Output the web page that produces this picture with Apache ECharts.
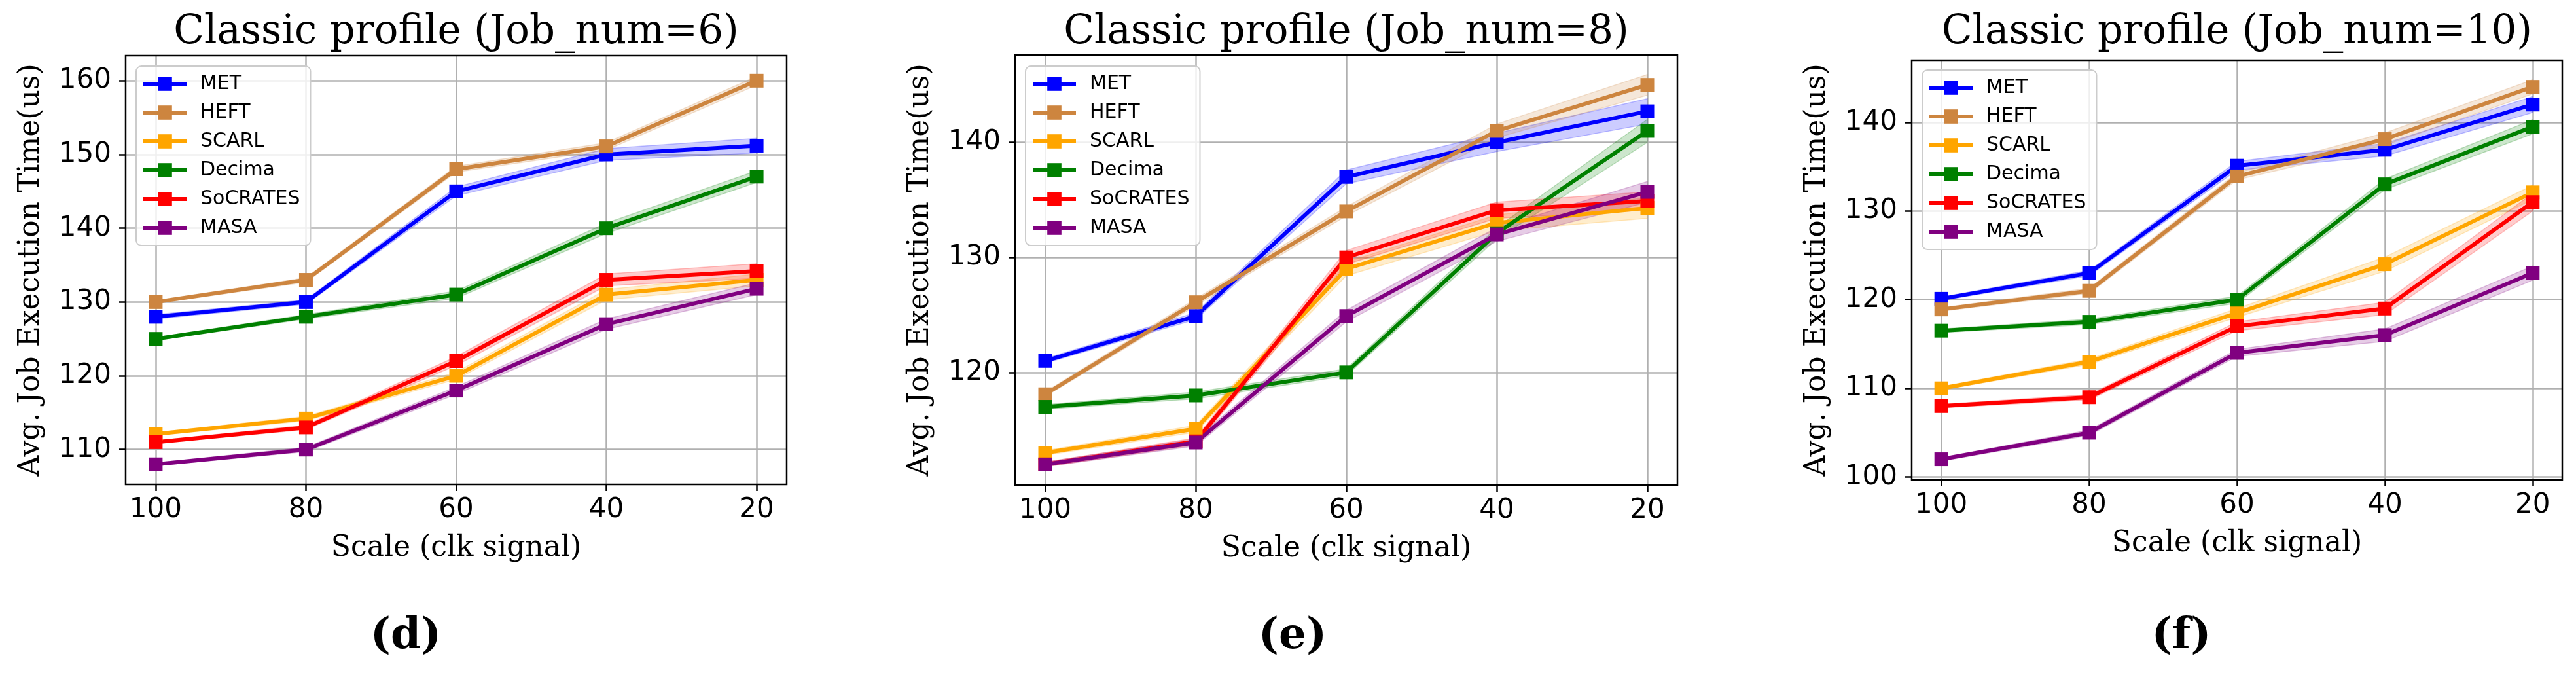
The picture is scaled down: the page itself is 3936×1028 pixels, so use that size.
<!DOCTYPE html>
<html><head><meta charset="utf-8">
<script src="https://cdn.jsdelivr.net/npm/echarts@6/dist/echarts.min.js"></script>
<style>html,body{margin:0;padding:0;background:#fff}#c{width:3936px;height:1028px}</style>
</head><body><div id="c"></div>
<script>
// ---------- data ----------
const categories = ['100', '80', '60', '40', '20'];
const seriesNames = ['MET', 'HEFT', 'SCARL', 'Decima', 'SoCRATES', 'MASA'];
const seriesColors = ['#0000ff', '#cd853f', '#ffa500', '#008000', '#ff0000', '#800080'];
const panelTitles = ['Classic profile (Job_num=6)', 'Classic profile (Job_num=8)', 'Classic profile (Job_num=10)'];
const panelCaptions = ['(d)', '(e)', '(f)'];
const xAxisTitle = 'Scale (clk signal)';
const yAxisTitle = 'Avg. Job Execution Time(us)';

// rows: MET, HEFT, SCARL, Decima, SoCRATES, MASA
const job6Values = [
  [128, 130, 145, 150, 151.2],
  [130, 133, 148, 151.1, 160],
  [112.1, 114.2, 120, 131, 133],
  [125, 128, 131, 140, 147],
  [111, 113, 122, 133, 134.2],
  [108, 110, 118, 127, 131.8]
];
const job6Spread = [
  [0.3, 0.3, 0.6, 0.8, 1.0],
  [0.2, 0.3, 0.4, 0.5, 0.6],
  [0.2, 0.3, 0.5, 0.7, 0.8],
  [0.2, 0.3, 0.5, 0.7, 0.8],
  [0.2, 0.3, 0.6, 0.8, 1.0],
  [0.2, 0.3, 0.5, 0.7, 0.8]
];
const job8Values = [
  [121, 124.9, 137, 140, 142.7],
  [118.1, 126.1, 134, 141, 145],
  [113, 115.1, 129, 133, 134.3],
  [117, 118, 120, 132.1, 141],
  [112, 114, 130, 134.1, 134.9],
  [112, 113.9, 124.9, 132, 135.7]
];
const job8Spread = [
  [0.2, 0.3, 0.6, 0.8, 1.1],
  [0.2, 0.3, 0.4, 0.6, 0.9],
  [0.2, 0.3, 0.6, 0.7, 0.9],
  [0.2, 0.3, 0.3, 0.5, 1.0],
  [0.2, 0.3, 0.6, 0.7, 0.8],
  [0.2, 0.3, 0.5, 0.6, 0.9]
];
const job10Values = [
  [120.1, 123, 135.1, 136.9, 142],
  [118.9, 121, 133.9, 138.1, 144],
  [110, 113, 118.5, 124, 132.1],
  [116.5, 117.5, 120, 133, 139.5],
  [108, 109, 117, 119, 131],
  [102, 105, 114, 116, 123]
];
const job10Spread = [
  [0.2, 0.3, 0.5, 0.7, 0.9],
  [0.2, 0.3, 0.4, 0.7, 0.8],
  [0.2, 0.3, 0.5, 0.8, 0.8],
  [0.2, 0.3, 0.4, 0.6, 0.8],
  [0.2, 0.3, 0.5, 0.7, 1.0],
  [0.2, 0.3, 0.4, 0.7, 0.8]
];
const yTicks6 = [110, 120, 130, 140, 150, 160];
const yTicks8 = [120, 130, 140];
const yTicks10 = [100, 110, 120, 130, 140];

// ---------- layout (pixels / axis extents) ----------
const panels = [
  { values: job6Values, spread: job6Spread, yTicks: yTicks6, yMin: 105.27, yMax: 163.4,
    box: [192, 85, 1202, 740], legend: [208, 101], captionX: 620 },
  { values: job8Values, spread: job8Spread, yTicks: yTicks8, yMin: 110.2, yMax: 147.6,
    box: [1551, 84, 2563, 741], legend: [1567, 101], captionX: 1975 },
  { values: job10Values, spread: job10Spread, yTicks: yTicks10, yMin: 99.68, yMax: 147.0,
    box: [2921, 92, 3915, 733], legend: [2937, 107], captionX: 3333 }
];
const xPad = 0.2;

function rgba(hex, a) {
  const n = parseInt(hex.slice(1), 16);
  return 'rgba(' + ((n >> 16) & 255) + ',' + ((n >> 8) & 255) + ',' + (n & 255) + ',' + a + ')';
}

const grid = [], xAxis = [], yAxis = [], series = [], legend = [], graphic = [];
const gridColor = '#b0b0b0';

panels.forEach((p, pi) => {
  const [l, t, r, b] = p.box;
  const W = r - l, H = b - t;
  const k = H / (p.yMax - p.yMin);
  const step = W / (4 + 2 * xPad);
  const yLo = p.yTicks[0], yHi = p.yTicks[p.yTicks.length - 1];
  const gBox = pi * 3, gH = pi * 3 + 1, gV = pi * 3 + 2;

  // box grid
  grid.push({ left: l, top: t, width: W, height: H, show: true, borderColor: '#000', borderWidth: 2.5, backgroundColor: 'transparent', z: 5 });
  xAxis.push({ gridIndex: gBox, type: 'value', min: 0, max: 1, show: false });
  yAxis.push({ gridIndex: gBox, type: 'value', min: 0, max: 1,
    axisLine: { show: false }, axisTick: { show: false }, axisLabel: { show: false }, splitLine: { show: false },
    name: yAxisTitle, nameLocation: 'middle', nameGap: 122,
    nameTextStyle: { fontFamily: 'DejaVu Serif', fontSize: 44, color: '#000' } });

  // horizontal gridlines grid
  const hTop = t + (p.yMax - yHi) * k, hBot = b - (yLo - p.yMin) * k;
  grid.push({ left: l, top: hTop, width: W, height: hBot - hTop });
  xAxis.push({ gridIndex: gH, type: 'value', min: 0, max: 1, show: false });
  yAxis.push({ gridIndex: gH, type: 'value', min: yLo, max: yHi, interval: p.yTicks[1] - p.yTicks[0],
    axisLine: { show: false },
    axisTick: { show: true, length: 10, lineStyle: { color: '#000', width: 2.5 } },
    axisLabel: { fontFamily: 'DejaVu Sans', fontSize: 42, color: '#000', margin: 22 },
    splitLine: { show: true, lineStyle: { color: gridColor, width: 2.5 } } });

  // vertical gridlines + data grid
  grid.push({ left: l + xPad * step, top: t, width: 4 * step, height: H });
  xAxis.push({ gridIndex: gV, type: 'value', min: 0, max: 4, interval: 1,
    axisLine: { show: false },
    axisTick: { show: true, length: 10, lineStyle: { color: '#000', width: 2.5 } },
    axisLabel: { fontFamily: 'DejaVu Sans', fontSize: 42, color: '#000', margin: 18,
      formatter: v => categories[Math.round(v)] },
    splitLine: { show: true, lineStyle: { color: gridColor, width: 2.5 } },
    name: xAxisTitle, nameLocation: 'middle', nameGap: 76,
    nameTextStyle: { fontFamily: 'DejaVu Serif', fontSize: 44, color: '#000' } });
  yAxis.push({ gridIndex: gV, type: 'value', min: p.yMin, max: p.yMax, show: false });

  seriesNames.forEach((name, si) => {
    const color = seriesColors[si];
    const vals = p.values[si], sp = p.spread[si];
    const band = vals.map((v, i) => [i, v - sp[i], v + sp[i]]);
    series.push({
      type: 'custom', xAxisIndex: gV, yAxisIndex: gV, silent: true, z: 2,
      encode: { x: 0, y: [1, 2] },
      data: band,
      renderItem: (params, api) => {
        if (params.dataIndex !== 0) return null;
        const up = band.map(d => api.coord([d[0], d[2]]));
        const lo = band.map(d => api.coord([d[0], d[1]])).reverse();
        return { type: 'polygon', shape: { points: up.concat(lo) },
          style: { fill: rgba(color, 0.2), stroke: rgba(color, 0.22), lineWidth: 1.5 } };
      }
    });
    series.push({
      type: 'line', name: name, xAxisIndex: gV, yAxisIndex: gV, z: 3,
      data: vals.map((v, i) => [i, v]),
      symbol: 'rect', symbolSize: 21, showAllSymbol: true,
      lineStyle: { color: color, width: 6 },
      itemStyle: { color: color }
    });
  });

  legend.push({
    left: p.legend[0], top: p.legend[1], orient: 'vertical', data: seriesNames,
    itemWidth: 66, itemHeight: 27, itemGap: 14,
    lineStyle: { width: 6 },
    textStyle: { fontFamily: 'DejaVu Sans', fontSize: 30, color: '#000', padding: [0, 0, 0, 16] },
    backgroundColor: 'rgba(255,255,255,0.8)', borderColor: '#cccccc', borderWidth: 2, borderRadius: 8,
    padding: [12, 16, 12, 8], selectedMode: false, z: 10
  });

  graphic.push({ type: 'text', x: (l + r) / 2, y: 50, style: { text: panelTitles[pi], textAlign: 'center', textVerticalAlign: 'middle',
    font: 'normal 61px "DejaVu Serif"', fill: '#000' } });
  graphic.push({ type: 'text', x: p.captionX, y: 973, style: { text: panelCaptions[pi], textAlign: 'center', textVerticalAlign: 'middle',
    font: 'bold 66px "DejaVu Serif"', fill: '#000' } });
});

const chart = echarts.init(document.getElementById('c'), null, { renderer: 'canvas' });
chart.setOption({ animation: false, backgroundColor: '#fff', grid, xAxis, yAxis, series, legend, graphic });
</script></body></html>
